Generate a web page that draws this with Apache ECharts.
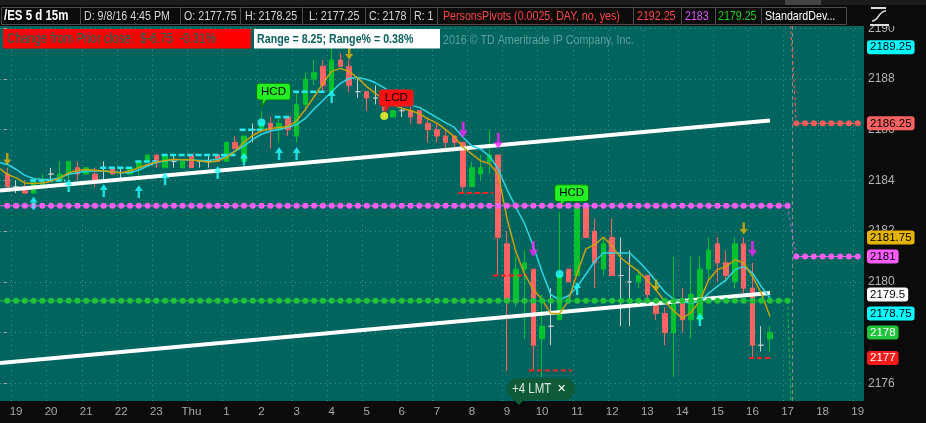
<!DOCTYPE html>
<html><head><meta charset="utf-8">
<script src="https://cdn.jsdelivr.net/npm/echarts@6/dist/echarts.min.js"></script>
<style>html,body{margin:0;padding:0;background:#0b0b0b;overflow:hidden}#c{width:926px;height:423px}</style>
</head><body><div id="c"></div><script>
// ---------- data (15-minute bars, slot index 0..87) ----------
const opens = [2184.25,2183.75,2183.75,2183.5,2183.75,2184.25,2184.0,2184.25,2184.5,2184.25,
2184.25,2184.5,2184.5,2184.5,2184.25,2184.5,2184.75,2185.0,2184.5,2184.75,
2184.5,2185.0,2184.75,2184.75,2185.0,2184.75,2185.5,2184.75,2186.0,2186.0,
2186.25,2186.0,2186.5,2185.75,2187.0,2188.0,2188.5,2187.5,2188.75,2188.5,
2187.5,2187.5,2187.25,2187.0,2186.5,2186.75,2186.75,2186.75,2186.25,2186.0,
2185.75,2185.75,2185.5,2183.75,2184.25,2184.75,2185.0,2181.5,2179.25,2180.5,
2180.5,2177.75,2178.25,2178.5,2180.5,2180.25,2183.0,2182.0,2180.5,2181.75,
2180.25,2180.0,2180.0,2180.25,2179.25,2178.75,2178.0,2179.25,2178.5,2178.5,
2180.5,2181.5,2180.75,2180.0,2181.5,2179.75,2177.5,2177.75];
const highs = [2184.5,2184.0,2184.0,2184.0,2184.25,2184.5,2184.75,2184.75,2184.75,2184.5,
2184.5,2184.75,2184.5,2184.5,2184.5,2184.75,2185.0,2185.0,2185.0,2185.0,
2184.75,2185.0,2184.75,2185.0,2185.0,2185.5,2185.75,2185.75,2186.25,2186.75,
2186.5,2186.5,2186.5,2187.5,2188.25,2188.75,2188.75,2189.25,2189.0,2188.75,
2188.0,2187.5,2187.75,2187.0,2186.75,2187.0,2187.0,2186.75,2186.5,2186.25,
2186.0,2185.75,2185.5,2184.75,2185.0,2186.0,2185.0,2182.0,2181.0,2181.25,
2180.5,2179.5,2179.75,2182.75,2180.5,2183.0,2183.0,2182.5,2181.75,2182.5,
2181.75,2181.25,2180.5,2180.25,2179.25,2179.0,2181.0,2179.75,2181.0,2181.0,
2181.75,2181.75,2181.25,2181.75,2181.75,2180.75,2178.25,2178.25];
const lows = [2183.75,2183.5,2183.5,2183.5,2183.75,2184.0,2184.0,2184.0,2184.0,2184.25,
2183.75,2184.0,2184.25,2184.0,2184.25,2184.0,2184.75,2184.5,2184.5,2184.5,
2184.5,2184.5,2184.5,2184.5,2184.75,2184.75,2185.25,2184.75,2185.5,2186.0,
2185.25,2185.5,2185.75,2185.5,2186.75,2187.75,2187.5,2187.5,2188.5,2187.5,
2187.25,2186.75,2187.0,2186.5,2186.5,2186.5,2186.25,2186.25,2185.5,2185.5,
2185.25,2185.25,2183.5,2183.75,2184.0,2184.25,2180.25,2176.5,2179.0,2177.75,
2176.5,2176.25,2177.5,2178.5,2180.0,2180.25,2181.75,2179.75,2180.25,2180.25,
2178.25,2178.25,2179.75,2179.25,2178.5,2177.5,2176.25,2178.0,2177.75,2178.25,
2180.0,2180.0,2180.0,2179.75,2179.5,2177.0,2177.25,2177.25];
const closes = [2183.75,2183.75,2183.5,2184.0,2184.0,2184.25,2184.25,2184.75,2184.25,2184.5,
2184.0,2184.5,2184.25,2184.5,2184.5,2184.75,2185.0,2184.75,2185.0,2184.75,
2184.75,2184.5,2184.75,2184.75,2184.75,2185.5,2185.25,2185.75,2186.0,2186.25,
2186.0,2186.25,2186.0,2187.0,2188.0,2188.25,2187.75,2188.75,2188.5,2187.75,
2187.5,2187.25,2187.25,2186.75,2186.75,2186.75,2186.5,2186.25,2186.0,2185.75,
2185.5,2185.5,2183.75,2184.5,2184.5,2185.0,2181.75,2179.25,2180.5,2180.75,
2177.5,2178.25,2178.25,2180.25,2180.0,2183.0,2181.75,2180.75,2181.5,2180.25,
2180.25,2180.0,2180.25,2179.5,2178.75,2178.0,2179.25,2178.5,2179.5,2180.5,
2181.25,2180.75,2180.25,2181.5,2179.75,2177.5,2177.5,2178.0];
const fastMA = [2184.24,2184.1,2183.9,2183.88,2183.9,2183.97,2184.1,2184.3,2184.4,2184.43,
2184.4,2184.37,2184.33,2184.3,2184.37,2184.5,2184.63,2184.72,2184.79,2184.83,
2184.81,2184.81,2184.77,2184.72,2184.77,2184.9,2185.16,2185.5,2185.78,2185.95,
2186.05,2186.09,2186.13,2186.35,2186.8,2187.3,2187.83,2188.3,2188.42,2188.29,
2188.03,2187.7,2187.43,2187.17,2186.97,2186.84,2186.76,2186.63,2186.43,2186.26,
2186.0,2185.73,2185.3,2185.04,2184.77,2184.67,2184.24,2182.5,2181.2,2180.3,
2179.7,2179.3,2178.75,2178.75,2179.25,2180.35,2181.3,2181.47,2181.76,2181.4,
2180.94,2180.67,2180.41,2180.05,2179.68,2179.22,2178.86,2178.56,2178.8,2179.25,
2180.08,2180.48,2180.61,2180.87,2180.74,2180.21,2179.55,2178.63];
const slowMA = [2184.63,2184.44,2184.2,2184.07,2184.04,2184.04,2184.1,2184.24,2184.3,2184.37,
2184.37,2184.37,2184.33,2184.3,2184.3,2184.41,2184.57,2184.7,2184.77,2184.81,
2184.81,2184.81,2184.79,2184.79,2184.83,2184.96,2185.16,2185.36,2185.62,2185.82,
2185.95,2186.01,2186.1,2186.2,2186.45,2186.82,2187.15,2187.5,2187.83,2188.02,
2188.06,2187.98,2187.85,2187.65,2187.4,2187.15,2186.97,2186.88,2186.68,2186.48,
2186.28,2186.09,2185.69,2185.36,2185.23,2184.96,2184.44,2183.64,2182.95,2182.3,
2181.4,2180.4,2179.49,2179.29,2179.45,2179.8,2180.3,2180.81,2181.14,2181.14,
2181.14,2181.14,2180.81,2180.45,2180.02,2179.6,2179.32,2179.2,2179.16,2179.22,
2179.55,2179.82,2180.08,2180.48,2180.61,2180.34,2179.82,2179.35];
const maStart = [2184.46, 2184.7];           // fast, slow at the left edge
const xLabels = ['19','20','21','22','23','Thu','1','2','3','4','5','6','7','8','9','10','11','12','13','14','15','16','17','18','19'];
const xLabelSlots = xLabels.map((_, i) => 1 + 4 * i);
const yTicks = [2176, 2178, 2180, 2182, 2184, 2186, 2188, 2190];
const xMin = -0.83, xMax = 97.72, yMin = 2175.3, yMax = 2190.09;
const channelUpper = [2183.6, 2186.36];      // at left edge, at last bar
const channelLower = [2176.8, 2179.56];
const lastBar = 87, todayEnd = 89, futureEnd = 97;
const pivotsToday = {r1: 2192.25, p: 2183, s1: 2179.25};
const pivotsNext  = {r1: 2186.25, p: 2181, s1: 2169.0};
const cyanUps = [[3,2183.11],[7,2183.8],[11,2183.6],[15,2183.56],[18,2184.07],[24,2184.31],[27,2184.84],[31,2185.06],[33,2185.06],[37,2187.31],[65,2179.74],[79,2178.51]];
const magentaDowns = [[52,2185.99],[56,2185.55],[60,2181.29],[85,2181.29]];
const goldDowns = [[0,2184.84],[39,2189.0],[74,2179.86],[84,2182.1]];
const cyanDots = [[29,2186.28],[63,2180.31]];
const yellowDots = [[43,2186.54]];
const cyanLevels = [[2.6,6.6,2184],[10.6,14.3,2184.5],[14.6,17.1,2184.75],[17.6,26.3,2185],[26.5,29.6,2186],[30.5,32.2,2186.5],[32.6,36.2,2187.5]];
const redLevels = [[51.5,55.4,2183.5],[55.4,59.3,2180.25],[59.5,64.4,2176.5],[84.6,87.3,2177]];
const bubbles = [[29,2186.9,'HCD'],[43,2186.65,'LCD'],[63,2182.9,'HCD']];
const priceTags = [[2189.25,'#00ffff','#000'],[2186.25,'#ff6262','#000'],[2181.75,'#e3b300','#000'],[2181,'#ff5cff','#000'],[2179.5,'#ffffff','#000'],[2178.75,'#00ffff','#000'],[2178,'#1fc43a','#fff'],[2177,'#ff1a1a','#fff']];
const daySeparator = 89.5;

// ---------- styles ----------
const FONT = "'Liberation Sans',Arial,sans-serif";
const NARROW = 0.82;
const TEAL = '#00645f';
const UP = '#00c12e', DOWN = '#ff6363', DOJI = '#cccccc';
const GRIDC = 'rgba(190,220,220,0.35)';

const candles = opens.map((o, i) => [i, o, closes[i], lows[i], highs[i]]);
const maData = (arr, start) => [[xMin, start]].concat(arr.map((v, i) => [i, v]));
const dots = (from, to, v, withEdge) => {
  const d = [];
  if (withEdge) d.push({value: [xMin, v], symbol: 'none'});
  for (let i = from; i <= to; i++) d.push([i, v]);
  return d;
};
const upArrow = 'path://M5 0 L10 6 L6.5 6 L6.5 13 L3.5 13 L3.5 6 L0 6 Z';
const downArrow = 'path://M3.5 0 L6.5 0 L6.5 7 L10 7 L5 13 L0 7 L3.5 7 Z';
const bubblePath = 'path://M0 3 Q0 0 3 0 L31 0 Q34 0 34 3 L34 13.5 Q34 16.5 31 16.5 L10 16.5 L5 23.5 L6 16.5 L3 16.5 Q0 16.5 0 13.5 Z';

const series = [];
// grid dotted lines + day separator
series.push({
  type: 'line', data: [], z: 1, silent: true,
  markLine: {
    silent: true, symbol: ['none', 'none'], animation: false, label: {show: false},
    lineStyle: {color: GRIDC, type: [1, 4], width: 1},
    data: xLabelSlots.map(s => ({xAxis: s - 0.5}))
      .concat(yTicks.map(v => ({yAxis: v})))
      .concat([{xAxis: daySeparator, lineStyle: {color: '#8a8a8a', type: [4, 3], width: 1}}])
  }
});
series.push({
  type: 'candlestick', data: candles, barWidth: 5, z: 2,
  itemStyle: {color: UP, color0: DOWN, borderColor: UP, borderColor0: DOWN, borderColorDoji: DOJI, borderWidth: 1},
  markLine: {
    silent: true, animation: false, symbol: ['none', 'none'],
    lineStyle: {color: 'rgba(0,0,0,0)', width: 0},
    data: priceTags.map(([v, bg, fg]) => ({
      yAxis: v,
      label: {show: true, position: 'end', distance: 3, formatter: String(v), backgroundColor: bg, color: fg,
        padding: [1, 3, 0, 3], borderRadius: 3, fontSize: 11.5, fontFamily: FONT, lineHeight: 13}
    }))
  }
});
// channel
series.push({type: 'line', data: [[xMin, channelUpper[0]], [lastBar, channelUpper[1]]], symbol: 'none', z: 3, lineStyle: {color: '#fff', width: 4}});
series.push({type: 'line', data: [[xMin, channelLower[0]], [lastBar, channelLower[1]]], symbol: 'none', z: 3, lineStyle: {color: '#fff', width: 4}});
// cyan & red level dashes
cyanLevels.forEach(([a, b, v]) => series.push({type: 'line', data: [[a, v], [b, v]], symbol: 'none', z: 3, lineStyle: {color: '#22e8f0', width: 2.5, type: [6, 2.5]}}));
redLevels.forEach(([a, b, v]) => series.push({type: 'line', data: [[a, v], [b, v]], symbol: 'none', z: 3, lineStyle: {color: '#ff2020', width: 2, type: [5, 3]}}));
// moving averages
series.push({type: 'line', data: maData(slowMA, maStart[1]), symbol: 'none', z: 4, lineStyle: {color: '#2ad6e6', width: 1.5}});
series.push({type: 'line', data: maData(fastMA, maStart[0]), symbol: 'none', z: 4, lineStyle: {color: '#c9a20e', width: 1.5}});
// pivots
const pv = (data, color) => ({type: 'line', data, symbol: 'circle', symbolSize: 6, z: 5, itemStyle: {color}, lineStyle: {color, width: 1}});
series.push(pv(dots(0, todayEnd, pivotsToday.p, true), '#ff5cf0'));
series.push(pv(dots(0, todayEnd, pivotsToday.s1, true), '#20c23c'));
series.push(pv(dots(todayEnd + 1, futureEnd, pivotsNext.r1, false), '#ff5c5c'));
series.push(pv(dots(todayEnd + 1, futureEnd, pivotsNext.p, false), '#ff5cf0'));
const conn = (a, b, color) => ({type: 'line', data: [[todayEnd, a], [todayEnd + 1, b]], symbol: 'none', z: 5, lineStyle: {color, width: 1, type: [3, 3]}});
series.push(conn(pivotsToday.r1, pivotsNext.r1, '#ff5c5c'));
series.push(conn(pivotsToday.p, pivotsNext.p, '#c070e0'));
series.push(conn(pivotsToday.s1, pivotsNext.s1, '#20c23c'));
// arrows and dots
series.push({type: 'scatter', data: cyanUps, symbol: upArrow, symbolSize: [8, 13], z: 6, itemStyle: {color: '#22ffff'}});
series.push({type: 'scatter', data: magentaDowns, symbol: downArrow, symbolSize: [9, 16], z: 6, itemStyle: {color: '#ff22ff'}});
series.push({type: 'scatter', data: goldDowns, symbol: downArrow, symbolSize: [8, 12], z: 6, itemStyle: {color: '#e8b400'}});
series.push({type: 'scatter', data: cyanDots, symbol: 'circle', symbolSize: 8, z: 6, itemStyle: {color: '#22ffff'}});
series.push({type: 'scatter', data: yellowDots, symbol: 'circle', symbolSize: 8, z: 6, itemStyle: {color: '#ffff22'}});
// bubbles
series.push({
  type: 'scatter', data: [], z: 10,
  markPoint: {
    animation: false, silent: true,
    data: bubbles.map(([x, y, t]) => ({
      coord: [x, y], symbol: bubblePath, symbolSize: [34, 23.5], symbolOffset: [12, -11.75],
      itemStyle: t === 'LCD' ? {color: '#ff1010', borderColor: '#9a3a3a', borderWidth: 1} : {color: '#22f022', borderColor: '#0a7a0a', borderWidth: 1},
      label: {show: true, formatter: t, position: 'inside', offset: [0, -3.5], color: '#000', fontSize: 11.5, fontFamily: FONT}
    }))
  }
});

// ---------- header and overlays ----------
const T = (text, x, y, fill, font) => ({type: 'text', z: 101, x, y, scaleX: NARROW, style: {text, x: 0, y: 0, fill, font, verticalAlign: 'middle'}});
const cellsX = [1, 80, 180, 240, 302, 365, 410, 437, 633, 681, 715, 761, 846];
const g = [
  {type: 'rect', z: 100, shape: {x: 0, y: 0, width: 926, height: 26}, style: {fill: '#0b0b0b'}},
  {type: 'rect', z: 100, shape: {x: 0, y: 0, width: 926, height: 5}, style: {fill: '#1c1c1c'}},
  {type: 'rect', z: 100, shape: {x: 785, y: 0, width: 36, height: 5}, style: {fill: '#444'}}
];
for (let i = 0; i < cellsX.length - 1; i++) {
  g.push({type: 'rect', z: 100, shape: {x: cellsX[i] + 0.5, y: 7.5, width: cellsX[i + 1] - cellsX[i], height: 17}, style: {fill: '#0b0b0b', stroke: '#4c4c4c', lineWidth: 1}});
}
const HF = '13px ' + FONT;
g.push(T('/ES 5 d 15m', 4, 16.5, '#ffffff', 'bold 14px ' + FONT));
g.push(T('D: 9/8/16 4:45 PM', 84, 16.5, '#d6d6d6', HF));
g.push(T('O: 2177.75', 184, 16.5, '#d6d6d6', HF));
g.push(T('H: 2178.25', 245, 16.5, '#d6d6d6', HF));
g.push(T('L: 2177.25', 309, 16.5, '#d6d6d6', HF));
g.push(T('C: 2178', 369, 16.5, '#d6d6d6', HF));
g.push(T('R: 1', 414, 16.5, '#d6d6d6', HF));
g.push(T('PersonsPivots (0.0025, DAY, no, yes)', 443, 16.5, '#ff4646', HF));
g.push(T('2192.25', 637, 16.5, '#ff4646', HF));
g.push(T('2183', 685, 16.5, '#e055ff', HF));
g.push(T('2179.25', 718, 16.5, '#22cc22', HF));
g.push(T('StandardDev...', 765, 16.5, '#ffffff', HF));
// icon
g.push({type: 'line', z: 101, shape: {x1: 871, y1: 8, x2: 886, y2: 8}, style: {stroke: '#ddd', lineWidth: 2}});
g.push({type: 'bezierCurve', z: 101, shape: {x1: 872, y1: 21, cpx1: 879, cpy1: 21, cpx2: 878, cpy2: 11, x2: 886, y2: 11}, style: {stroke: '#ddd', lineWidth: 1.5, fill: null}});
g.push({type: 'line', z: 101, shape: {x1: 870, y1: 25, x2: 889, y2: 25}, style: {stroke: '#ddd', lineWidth: 2}});
// change / range boxes and watermark
g.push({type: 'rect', z: 100, shape: {x: 3, y: 29, width: 248, height: 19.5}, style: {fill: '#ff0000'}});
g.push(T('Change from Prior close:  $-6.75  -0.31%', 7, 39, '#0c6a66', '14px ' + FONT));
g.push({type: 'rect', z: 100, shape: {x: 254, y: 29, width: 186, height: 19.5}, style: {fill: '#ffffff'}});
g.push(T('Range = 8.25; Range% = 0.38%', 257, 39, '#0a625e', 'bold 13px ' + FONT));
g.push(T('2016 \u00a9 TD Ameritrade IP Company, Inc.', 443, 40, '#5f9f9b', '13px ' + FONT));
// order pill
g.push({type: 'rect', z: 100, shape: {x: 507, y: 378, width: 68, height: 22, r: 11}, style: {fill: '#0f5a38'}});
g.push({type: 'polygon', z: 100, shape: {points: [[513, 399], [525, 399], [519, 405]]}, style: {fill: '#0f5a38'}});
g.push(T('+4 LMT', 512, 389, '#dce8e0', '14px ' + FONT));
g.push({type: 'text', z: 101, x: 557, y: 389, style: {text: '\u2715', x: 0, y: 0, fill: '#ffffff', font: 'bold 11px "DejaVu Sans"', verticalAlign: 'middle'}});

const chart = echarts.init(document.getElementById('c'), null, {renderer: 'canvas'});
chart.setOption({
  animation: false,
  backgroundColor: '#0b0b0b',
  grid: {left: 0, top: 26, right: 62, bottom: 22, show: true, backgroundColor: TEAL, borderWidth: 0},
  xAxis: {
    type: 'value', min: xMin, max: xMax,
    axisLine: {show: false}, axisTick: {show: false}, splitLine: {show: false},
    axisLabel: {customValues: xLabelSlots, formatter: v => xLabels[(v - 1) / 4], color: '#a8a8a8', fontSize: 11.5, fontFamily: FONT, margin: 5}
  },
  yAxis: {
    type: 'value', position: 'right', min: yMin, max: yMax,
    axisLine: {show: false},
    axisTick: {show: true, inside: true, length: 4, customValues: yTicks, lineStyle: {color: '#9a9a9a'}},
    axisLabel: {customValues: yTicks, formatter: v => String(v), color: '#b4b4b4', fontSize: 12, fontFamily: FONT, margin: 4},
    splitLine: {show: false}
  },
  series,
  graphic: {elements: g}
});
</script></body></html>
